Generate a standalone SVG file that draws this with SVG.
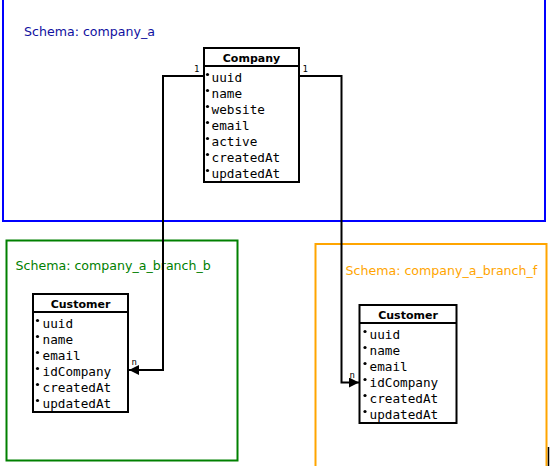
<svg xmlns="http://www.w3.org/2000/svg" width="555" height="466" viewBox="0 0 555 466">
<style>
.schema{fill:none;stroke-width:2}
.slabel{font-family:"DejaVu Sans",sans-serif;font-size:12.6px}
.tbl{fill:#fff;stroke:#000;stroke-width:2}
.sep{stroke:#000;stroke-width:2}
.hdr{font-family:"DejaVu Sans",sans-serif;font-weight:bold;font-size:11px;text-anchor:middle;fill:#000}
.row{font-family:"DejaVu Sans Mono",monospace;font-size:12.7px;fill:#000}
.card{font-family:"DejaVu Sans Mono",monospace;font-size:9px;fill:#000}
.conn{fill:none;stroke:#000;stroke-width:2}
</style>
<defs>
<marker id="arr" markerWidth="10" markerHeight="10" refX="10" refY="5" orient="auto" markerUnits="userSpaceOnUse">
<path d="M0,0 L10,5 L0,10 Z" fill="#000"/>
</marker>
</defs>
<rect width="555" height="466" fill="#fff"/>

<g id="schema_company_a">
<rect class="schema" x="3" y="-10" width="542" height="231" stroke="#0000ff"/>
<text class="slabel" x="24" y="36" fill="#1010a0">Schema: company_a</text>
</g>
<g id="schema_company_a_branch_b">
<rect class="schema" x="6.5" y="240.5" width="231" height="220" stroke="#008000"/>
<text class="slabel" x="15.5" y="270" fill="#008000">Schema: company_a_branch_b</text>
</g>
<g id="schema_company_a_branch_f">
<rect class="schema" x="315.5" y="244" width="231" height="240" stroke="#ffa500"/>
<text class="slabel" x="345.5" y="275" fill="#ffa500">Schema: company_a_branch_f</text>
</g>
<line x1="548.5" y1="447" x2="548.5" y2="466" stroke="#000" stroke-width="1.5"/>

<g id="connectors">
<polyline class="conn" points="204,76 163,76 163,370 129,370" marker-end="url(#arr)"/>
<polyline class="conn" points="299,76 341.5,76 341.5,382.5 359,382.5" marker-end="url(#arr)"/>
<text class="card" x="194" y="72">1</text>
<text class="card" x="302.5" y="72">1</text>
<text class="card" x="131.5" y="365">n</text>
<text class="card" x="349.5" y="378">n</text>
</g>

<g id="company">
<rect class="tbl" x="204" y="48" width="95" height="134"/>
<line class="sep" x1="204" y1="66" x2="299" y2="66"/>
<text class="hdr" x="251.5" y="62">Company</text>
<g fill="#000">
<circle cx="207.5" cy="74.5" r="1.6"/><circle cx="207.5" cy="90.5" r="1.6"/><circle cx="207.5" cy="106.5" r="1.6"/><circle cx="207.5" cy="122.5" r="1.6"/><circle cx="207.5" cy="138.5" r="1.6"/><circle cx="207.5" cy="154.5" r="1.6"/><circle cx="207.5" cy="170.5" r="1.6"/>
</g>
<text class="row" x="211.5" y="81.5">uuid</text>
<text class="row" x="211.5" y="97.5">name</text>
<text class="row" x="211.5" y="113.5">website</text>
<text class="row" x="211.5" y="129.5">email</text>
<text class="row" x="211.5" y="145.5">active</text>
<text class="row" x="211.5" y="161.5">createdAt</text>
<text class="row" x="211.5" y="177.5">updatedAt</text>
</g>

<g id="customer_branch_b">
<rect class="tbl" x="33" y="294" width="95" height="118"/>
<line class="sep" x1="33" y1="312" x2="128" y2="312"/>
<text class="hdr" x="80.5" y="308">Customer</text>
<g fill="#000">
<circle cx="37.5" cy="320.5" r="1.6"/><circle cx="37.5" cy="336.5" r="1.6"/><circle cx="37.5" cy="352.5" r="1.6"/><circle cx="37.5" cy="368.5" r="1.6"/><circle cx="37.5" cy="384.5" r="1.6"/><circle cx="37.5" cy="400.5" r="1.6"/>
</g>
<text class="row" x="42.5" y="327.5">uuid</text>
<text class="row" x="42.5" y="343.5">name</text>
<text class="row" x="42.5" y="359.5">email</text>
<text class="row" x="42.5" y="375.5">idCompany</text>
<text class="row" x="42.5" y="391.5">createdAt</text>
<text class="row" x="42.5" y="407.5">updatedAt</text>
</g>

<g id="customer_branch_f">
<rect class="tbl" x="359.5" y="305" width="97" height="118"/>
<line class="sep" x1="359.5" y1="323" x2="456.5" y2="323"/>
<text class="hdr" x="408" y="319">Customer</text>
<g fill="#000">
<circle cx="365" cy="331.5" r="1.6"/><circle cx="365" cy="347.5" r="1.6"/><circle cx="365" cy="363.5" r="1.6"/><circle cx="365" cy="379.5" r="1.6"/><circle cx="365" cy="395.5" r="1.6"/><circle cx="365" cy="411.5" r="1.6"/>
</g>
<text class="row" x="369.5" y="338.5">uuid</text>
<text class="row" x="369.5" y="354.5">name</text>
<text class="row" x="369.5" y="370.5">email</text>
<text class="row" x="369.5" y="386.5">idCompany</text>
<text class="row" x="369.5" y="402.5">createdAt</text>
<text class="row" x="369.5" y="418.5">updatedAt</text>
</g>
</svg>
